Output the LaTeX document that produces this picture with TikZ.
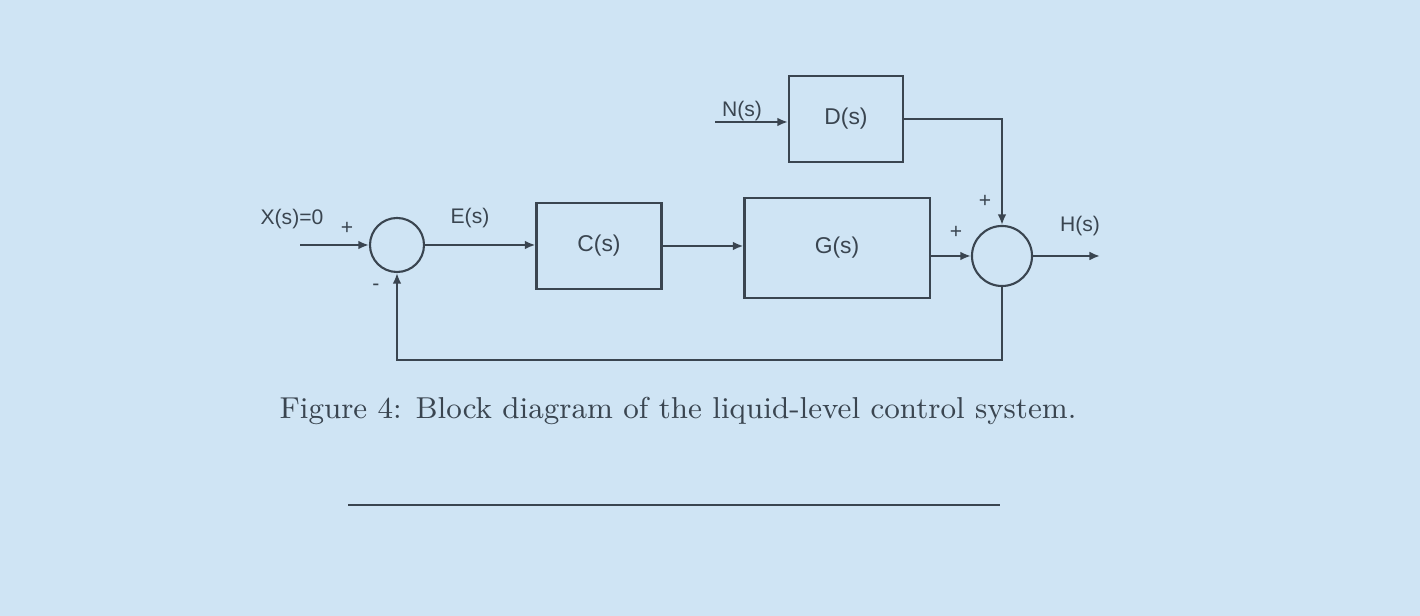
\documentclass[tikz,border=0pt]{standalone}
\usepackage{fontspec}
\newfontfamily\lab{Liberation Sans}
\usetikzlibrary{arrows.meta}
\definecolor{bg}{HTML}{CFE4F4}
\definecolor{ink}{HTML}{3A4550}
\begin{document}
\begin{tikzpicture}[x=0.01cm,y=-0.01cm,
  blk/.style={draw=ink,line width=0.6pt,inner sep=0pt,font=\lab\fontsize{6.5}{7}\selectfont,text=ink},
  sumc/.style={draw=ink,line width=0.6pt,circle,inner sep=0pt},
  wire/.style={draw=ink,line width=0.6pt},
  arr/.style={wire,-{Latex[length=3pt,width=2.5pt]}},
  lb/.style={font=\lab\fontsize{6}{7}\selectfont,text=ink,inner sep=1pt}]
\fill[bg] (0,0) rectangle (1420,616);
\useasboundingbox (0,0) rectangle (1420,616);
\node[sumc,minimum size=0.54cm] (s1) at (397,245) {};
\node[blk,minimum width=1.25cm,minimum height=0.86cm] (c) at (599,246) {C(s)};
\node[blk,minimum width=1.85cm,minimum height=1cm] (g) at (837,248) {G(s)};
\node[blk,minimum width=1.14cm,minimum height=0.86cm] (d) at (846,119) {D(s)};
\node[sumc,minimum size=0.6cm] (s2) at (1002,256) {};
\coordinate (xin) at (300,245);
\coordinate (nin) at (715,122);
\coordinate (hout) at (1100,256);
\coordinate (fb1) at (1002,360);
\coordinate (fb2) at (397,360);
\coordinate (dc) at (1002,119);
\draw[arr] (xin) -- (s1.west);
\draw[arr] (s1.east) -- (c.west |- s1.east);
\draw[arr] (c.east) -- (g.west |- c.east);
\draw[arr] (g.east |- s2.west) -- (s2.west);
\draw[arr] (nin) -- (d.west |- nin);
\draw[arr] (d.east) -- (dc) -- (s2.north);
\draw[arr] (s2.east) -- (hout);
\draw[arr] (s2.south) -- (fb1) -- (fb2) -- (s1.south);
\node[lb] (lx) at (292,219) {X(s)=0};
\node[lb] (p1) at (347,228) {+};
\node[lb] (m1) at (376,287) {-};
\node[lb] (le) at (470,218) {E(s)};
\node[lb] (ln) at (742,111) {N(s)};
\node[lb] (p2) at (985,201) {+};
\node[lb] (p3) at (956,232) {+};
\node[lb] (lh) at (1080,226) {H(s)};
\node[text=ink,font=\fontsize{8.6}{10}\selectfont,inner sep=0pt] (cap) at (678,411) {Figure 4: Block diagram of the liquid-level control system.};
\coordinate (r1) at (348,505);
\coordinate (r2) at (1000,505);
\draw[ink,line width=0.8pt] (r1) -- (r2);
\end{tikzpicture}
\end{document}
